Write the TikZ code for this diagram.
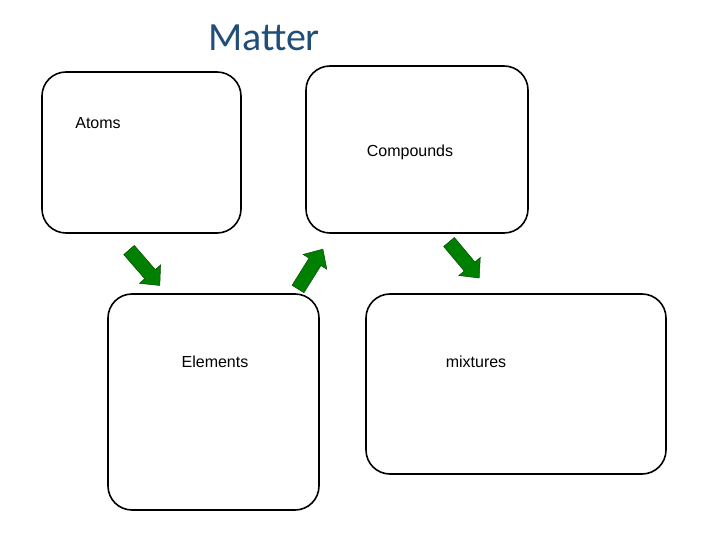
\documentclass[tikz,border=0pt]{standalone}
\usepackage{fontspec}
\setmainfont{Liberation Sans}
\newfontfamily\titlefont{Carlito}
\definecolor{titleblue}{HTML}{1F4E79}
\begin{document}
\begin{tikzpicture}[x=1pt,y=-1pt,
  boxstyle/.style={draw=black,line width=1.6pt,rounded corners=24pt,fill=white},
  lbl/.style={font=\fontsize{16}{18}\selectfont},
  barrow/.pic={\draw[fill=green!50!black,draw=black!70!green,line width=0.5pt] (0,-7)--(32,-7)--(32,-14)--(47,0)--(32,14)--(32,7)--(0,7)--cycle;}]
\useasboundingbox (0,0) rectangle (720,540);
\node[text=titleblue,font=\titlefont\fontsize{40}{44}\selectfont] (title) at (264,38) {Matter};
\draw[boxstyle] (42,72) rectangle (241,233);
\draw[boxstyle] (306,66) rectangle (528,233);
\draw[boxstyle] (108,294) rectangle (319,510);
\draw[boxstyle] (366,294) rectangle (666,474);
\node[lbl] (atoms) at (98,123) {Atoms};
\node[lbl] (comp) at (410,152) {Compounds};
\node[lbl] (elem) at (215,362) {Elements};
\node[lbl] (mix) at (476,362) {mixtures};
\pic[rotate=-49] at (129,250) {barrow};
\pic[rotate=58] at (298,289) {barrow};
\pic[rotate=-50] at (449,242) {barrow};
\end{tikzpicture}
\end{document}
